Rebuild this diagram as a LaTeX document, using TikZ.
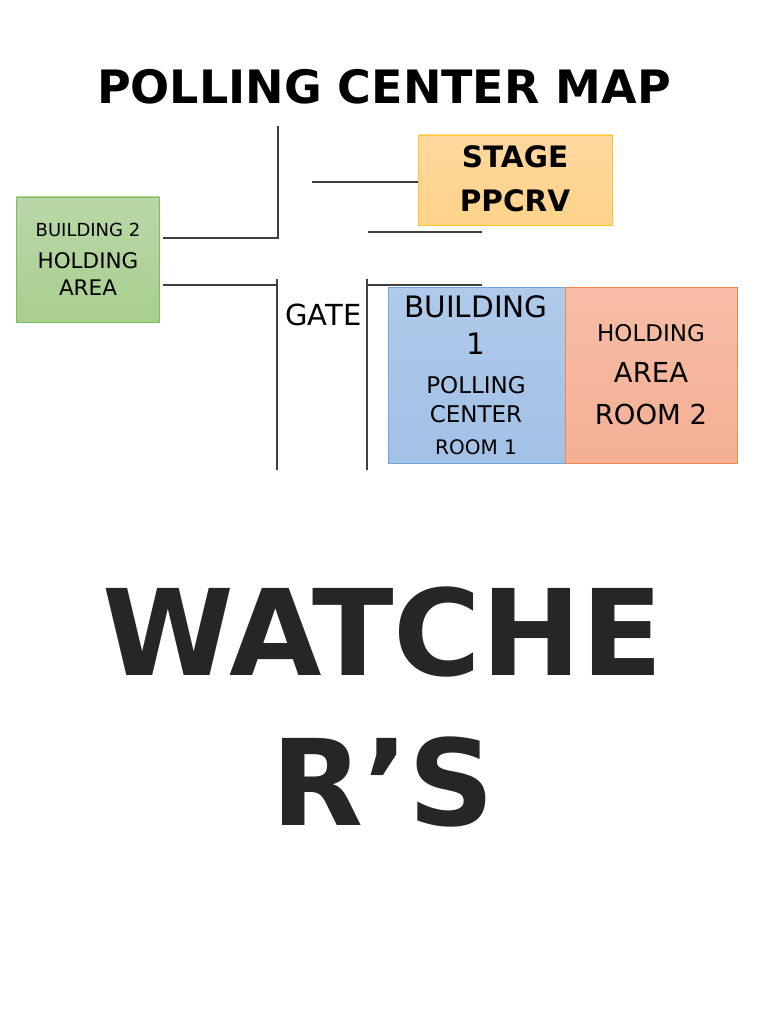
\documentclass[tikz,border=0pt]{standalone}
\usepackage{fontspec}
\setmainfont{DejaVu Sans}
\usetikzlibrary{positioning}
\definecolor{wallcol}{HTML}{404040}
\definecolor{bigcol}{HTML}{262626}
\definecolor{greenedge}{HTML}{7FBB5E}
\definecolor{greentop}{HTML}{B9D7A8}
\definecolor{greenbot}{HTML}{A8CF8E}
\definecolor{orangeedge}{HTML}{FFC62B}
\definecolor{orangetop}{HTML}{FFD89E}
\definecolor{orangebot}{HTML}{FFD38A}
\definecolor{blueedge}{HTML}{6FA5DA}
\definecolor{bluetop}{HTML}{AFCAEA}
\definecolor{bluebot}{HTML}{A2C1E6}
\definecolor{rededge}{HTML}{EE8A4E}
\definecolor{redtop}{HTML}{F7BDA6}
\definecolor{redbot}{HTML}{F4AF94}
\tikzstyle{room}=[draw, line width=0.9pt, inner sep=0pt]
\tikzstyle{label}=[inner sep=0pt, anchor=center, align=center, text=black]
\tikzstyle{wall}=[draw=wallcol, line width=1.2pt]
\def\fsize#1{\fontsize{#1}{#1}\selectfont}
\begin{document}
\begin{tikzpicture}[x=1pt,y=-1pt]
	\useasboundingbox (0,0) rectangle (768,1024);
	% Define the nodes in the picture
	\node (title) [label] at (384,87) {\fsize{46}\bfseries POLLING CENTER MAP};
	\node (bldg_two) [room,draw=greenedge,top color=greentop,bottom color=greenbot,minimum width=143pt,minimum height=125pt] at (88,259.5) {};
	\node (stage) [room,draw=orangeedge,top color=orangetop,bottom color=orangebot,minimum width=194pt,minimum height=90pt] at (515,180) {};
	\node (bldg_one) [room,draw=blueedge,top color=bluetop,bottom color=bluebot,minimum width=177pt,minimum height=176pt] at (476.5,375) {};
	\node (room_two) [room,draw=rededge,top color=redtop,bottom color=redbot,minimum width=172pt,minimum height=176pt] at (651,375) {};

	\node (bldg_two_a) [label] at (88,229.5) {\fsize{18}BUILDING 2};
	\node (bldg_two_b) [label] at (88,260.5) {\fsize{21.5}HOLDING};
	\node (bldg_two_c) [label] at (88,287.5) {\fsize{21.5}AREA};
	\node (stage_a) [label] at (515,157) {\fsize{29.5}\bfseries STAGE};
	\node (stage_b) [label] at (515,201) {\fsize{29.5}\bfseries PPCRV};
	\node (gate) [label] at (323.5,315) {\fsize{29}GATE};
	\node (bldg_one_a) [label] at (476,307) {\fsize{29.5}BUILDING};
	\node (bldg_one_b) [label] at (476,344) {\fsize{29.5}1};
	\node (bldg_one_c) [label] at (476,385) {\fsize{23}POLLING};
	\node (bldg_one_d) [label] at (476,414) {\fsize{23}CENTER};
	\node (bldg_one_e) [label] at (476,447) {\fsize{20}ROOM 1};
	\node (room_two_a) [label] at (651,333) {\fsize{23}HOLDING};
	\node (room_two_b) [label] at (651,372) {\fsize{27.5}AREA};
	\node (room_two_c) [label] at (651,414) {\fsize{27.5}ROOM 2};
	\node (watch_a) [label,text=bigcol] at (383,632) {\fsize{119.5}\bfseries WATCHE};
	\node (watch_b) [label,text=bigcol] at (383,782) {\fsize{119.5}\bfseries R’S};

	\coordinate (top_end) at (278,126);
	\coordinate (upper_end) at (163,238);
	\coordinate (lower_end) at (163,285);
	\coordinate (lower_mid) at (278,285);
	\coordinate (stage_end) at (312,182);
	\coordinate (road_a) at (368,232);
	\coordinate (road_b) at (482,232);
	\coordinate (gate_la) at (277,279);
	\coordinate (gate_lb) at (277,470);
	\coordinate (gate_ra) at (367,279);
	\coordinate (gate_rb) at (367,470);
	\coordinate (road_c) at (367,285);
	\coordinate (road_d) at (482,285);

	% Define the edges in the picture
	\draw [wall] (top_end) |- (upper_end);
	\draw [wall] (lower_end) -- (lower_mid);
	\draw [wall] (stage_end) -- (stage_end -| stage.west);
	\draw [wall] (road_a) -- (road_b);
	\draw [wall] (gate_la) -- (gate_lb);
	\draw [wall] (gate_ra) -- (gate_rb);
	\draw [wall] (road_c) -- (road_d);
\end{tikzpicture}
\end{document}
